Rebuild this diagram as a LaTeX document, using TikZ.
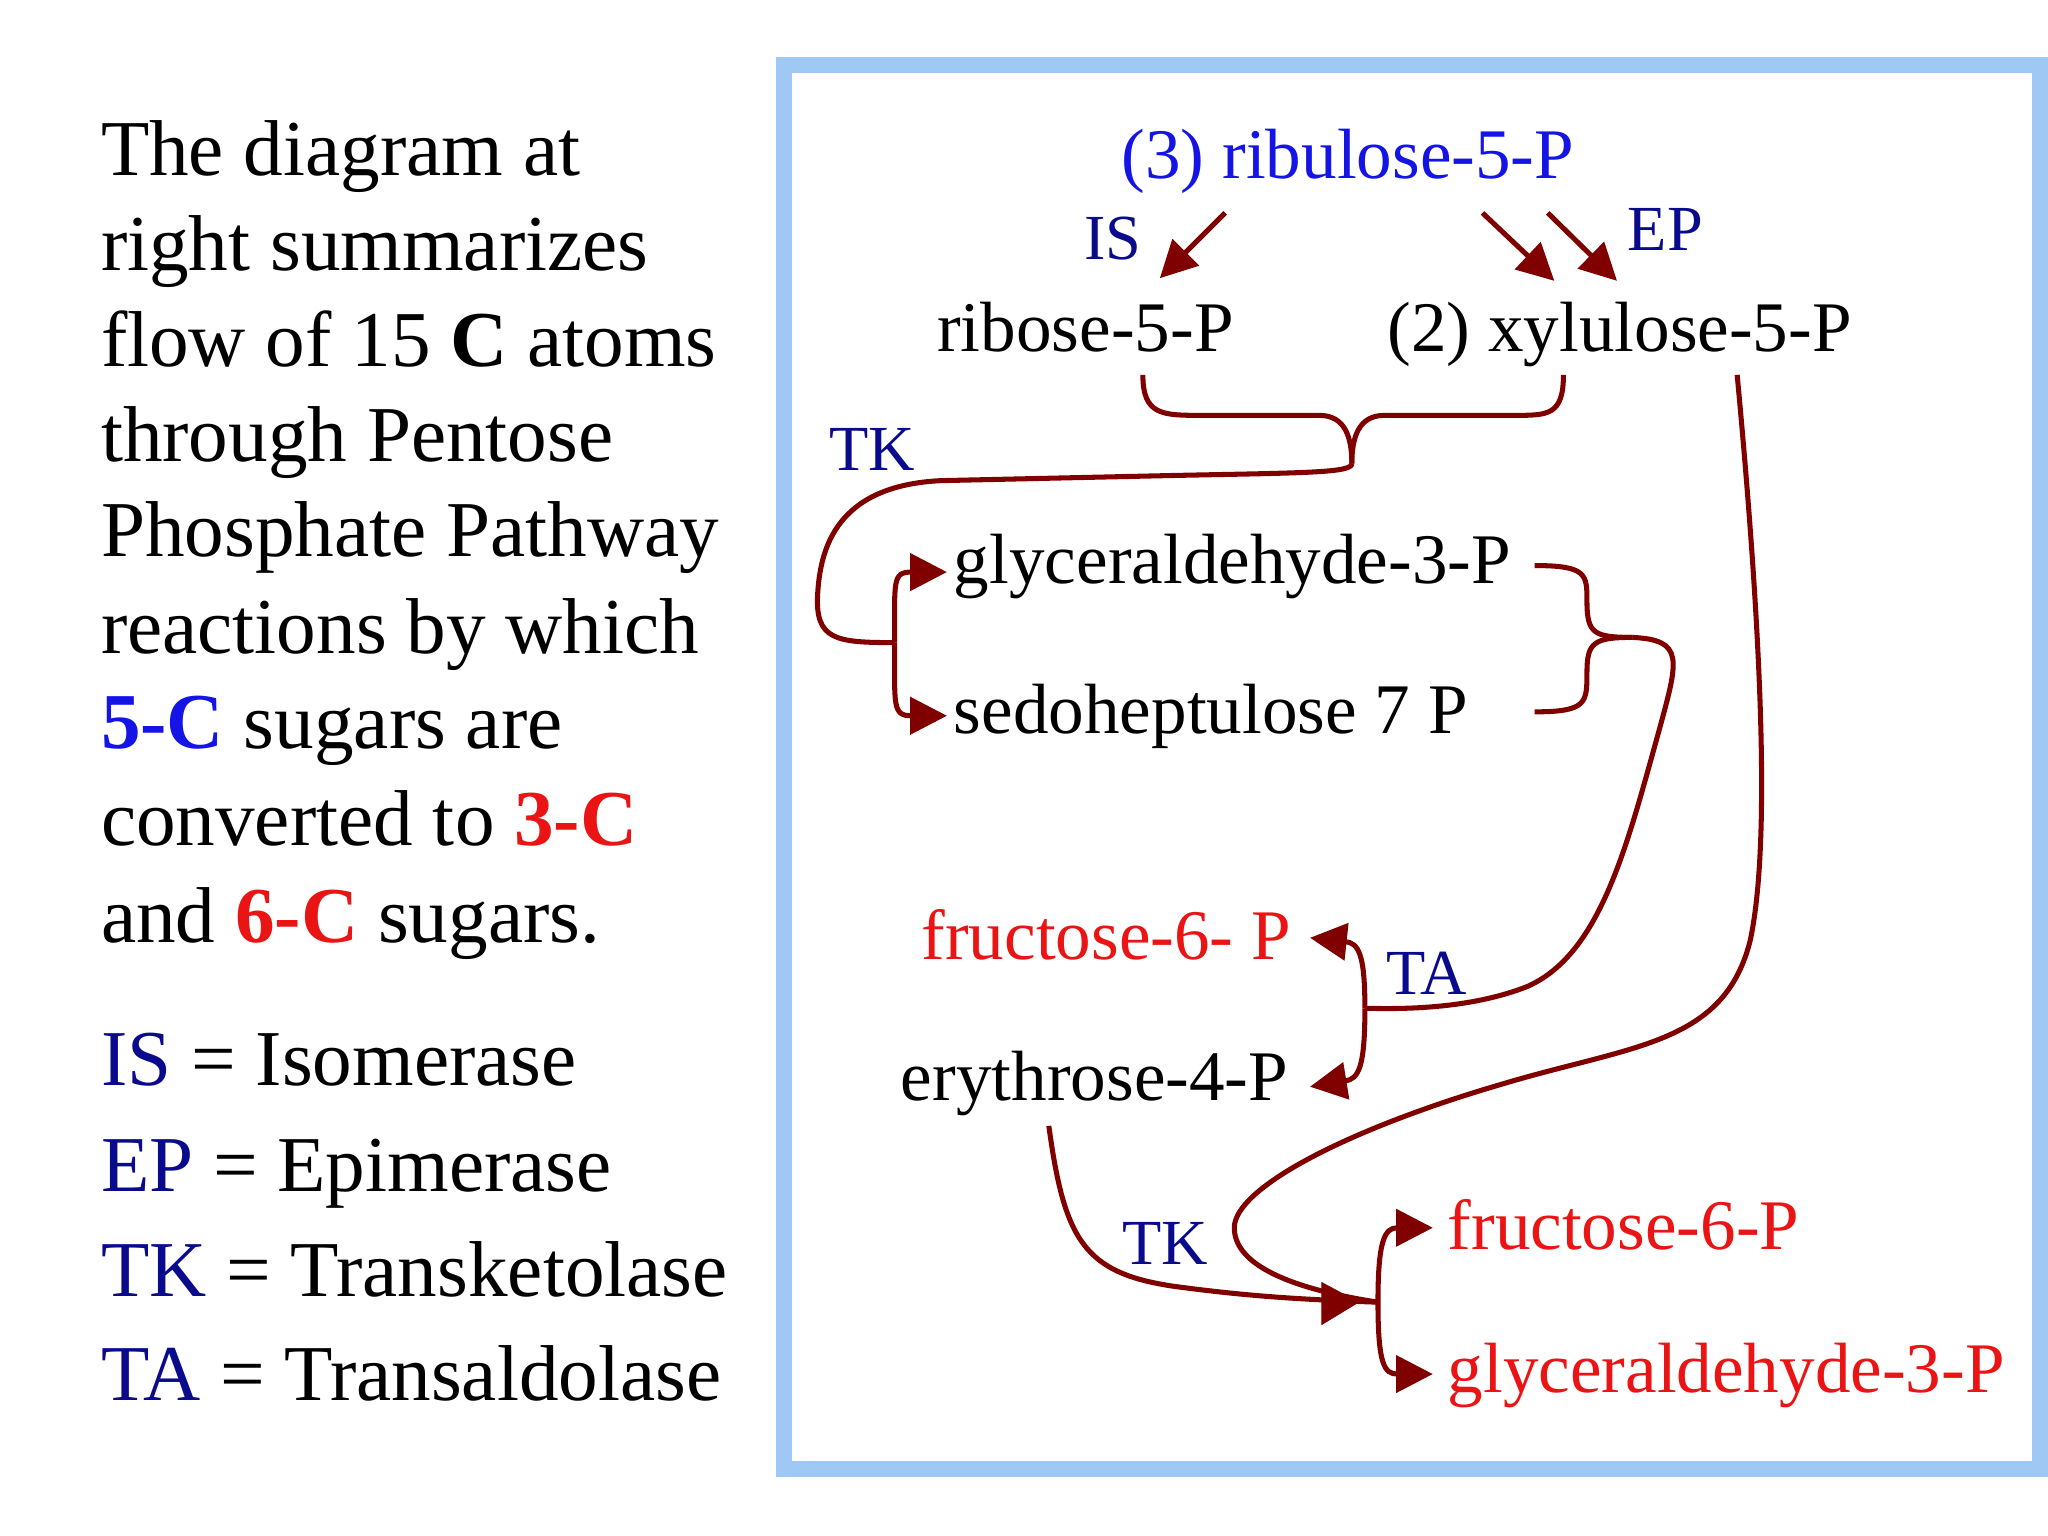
\documentclass[tikz,border=0pt]{standalone}
\usepackage{fontspec}
\setmainfont{Liberation Serif}
\usetikzlibrary{arrows.meta}
\definecolor{dred}{RGB}{128,0,0}
\definecolor{navy}{RGB}{10,10,140}
\definecolor{bblue}{RGB}{20,20,230}
\definecolor{rred}{RGB}{235,20,20}
\definecolor{frame}{RGB}{160,200,245}
\begin{document}
\begin{tikzpicture}[x=0.02cm,y=-0.02cm,
  lt/.style={anchor=west,inner sep=0pt,yshift=-0.24cm,font=\fontsize{34.5}{38}\selectfont,text height=0.72em,text depth=0.22em},
  rt/.style={inner sep=0pt,yshift=-0.24cm,font=\fontsize{31}{34}\selectfont,text height=0.72em,text depth=0.22em},
  en/.style={inner sep=0pt,font=\fontsize{28}{32}\selectfont,text=navy},
  con/.style={draw=dred,line width=2.2pt},
  arr/.style={con,-{Triangle[length=16pt,width=16pt]}}]
\useasboundingbox (0,0) rectangle (1568,1176);
\draw[frame,line width=7pt] (600,50) rectangle (1562,1125);
% left text
\node[lt] (l1) at (77,118) {The diagram at};
\node[lt] (l2) at (77,191) {right summarizes};
\node[lt] (l3) at (77,264) {flow of 15 \textbf{C} atoms};
\node[lt] (l4) at (77,337) {through Pentose};
\node[lt] (l5) at (77,410) {Phosphate Pathway};
\node[lt] (l6) at (77,484) {reactions by which};
\node[lt] (l7) at (77,557) {\textcolor{bblue}{\textbf{5-C}} sugars are};
\node[lt] (l8) at (77,631) {converted to \textcolor{rred}{\textbf{3-C}}};
\node[lt] (l9) at (77,705) {and \textcolor{rred}{\textbf{6-C}} sugars.};
\node[lt] (k1) at (77,815) {\textcolor{navy}{IS} = Isomerase};
\node[lt] (k2) at (77,896) {\textcolor{navy}{EP} = Epimerase};
\node[lt] (k3) at (77,976) {\textcolor{navy}{TK} = Transketolase};
\node[lt] (k4) at (77,1056) {\textcolor{navy}{TA} = Transaldolase};
% right nodes
\node[rt,text=bblue] (ribu) at (1032,120) {(3) ribulose-5-P};
\node[rt] (ribose) at (831,253) {ribose-5-P};
\node[rt] (xylu) at (1240,253) {(2) xylulose-5-P};
\node[rt,anchor=west] (g3p) at (730,430) {glyceraldehyde-3-P};
\node[rt,anchor=west] (s7p) at (730,545) {sedoheptulose 7 P};
\node[rt,text=rred] (f6p) at (847,718) {fructose-6- P};
\node[rt] (e4p) at (838,826) {erythrose-4-P};
\node[rt,anchor=west,text=rred] (f6p2) at (1108,940) {fructose-6-P};
\node[rt,anchor=west,text=rred] (g3p2) at (1108,1050) {glyceraldehyde-3-P};
\node[en] (is) at (852,183) {IS};
\node[en] (ep) at (1275,176) {EP};
\node[en] (tk1) at (668,344) {TK};
\node[en] (ta) at (1092,745) {TA};
\node[en] (tk2) at (892,952) {TK};
% coordinates
\coordinate (j1) at (1035,355);
\coordinate (j2) at (685,492);
\coordinate (j3) at (1250,488);
\coordinate (j4) at (1045,772);
\coordinate (j5) at (1055,997);
% arrows from ribulose
\draw[arr] (938,163) -- (888,213);
\draw[arr] (1135,163) -- (1190,215);
\draw[arr] (1185,163) -- (1238,215);
% TK brace 1
\draw[con] (875,287) .. controls (875,318) and (890,318) .. (920,318) -- (1010,318) .. controls (1030,318) and (1035,335) .. (j1);
\draw[con] (1197,287) .. controls (1197,318) and (1185,318) .. (1160,318) -- (1060,318) .. controls (1040,318) and (1035,335) .. (j1);
\draw[con] (j1) .. controls (1035,362) and (1000,362) .. (900,364) -- (720,368) .. controls (640,372) and (628,420) .. (626,455) .. controls (624,490) and (640,492) .. (j2);
\draw[arr] (j2) .. controls (685,445) and (683,438) .. (725,438);
\draw[arr] (j2) .. controls (685,540) and (683,548) .. (725,548);
% TA brace
\draw[con] (1175,433) .. controls (1215,433) and (1215,440) .. (1215,460) .. controls (1215,485) and (1220,488) .. (j3);
\draw[con] (1175,545) .. controls (1215,545) and (1215,538) .. (1215,515) .. controls (1215,492) and (1220,488) .. (j3);
\draw[con] (j3) .. controls (1290,490) and (1285,505) .. (1270,560) .. controls (1245,650) and (1225,730) .. (1170,755) .. controls (1120,775) and (1060,772) .. (j4);
\draw[arr] (j4) .. controls (1045,730) and (1040,722) .. (1003,718);
\draw[arr] (j4) .. controls (1045,818) and (1040,826) .. (1003,832);
% TK 2
\draw[con] (1330,287) .. controls (1350,500) and (1355,650) .. (1340,720) .. controls (1320,800) and (1250,800) .. (1150,830) .. controls (1030,865) and (945,910) .. (945,940) .. controls (945,975) and (1010,990) .. (j5);
\draw[con] (803,862) .. controls (815,950) and (830,975) .. (900,985) .. controls (960,993) and (1000,995) .. (j5);
\draw[dred,fill=dred] (1012,982) -- (1040,997) -- (1012,1014) -- cycle;
\draw[arr] (j5) .. controls (1055,950) and (1060,940) .. (1097,940);
\draw[arr] (j5) .. controls (1055,1045) and (1060,1052) .. (1097,1052);
\end{tikzpicture}
\end{document}
